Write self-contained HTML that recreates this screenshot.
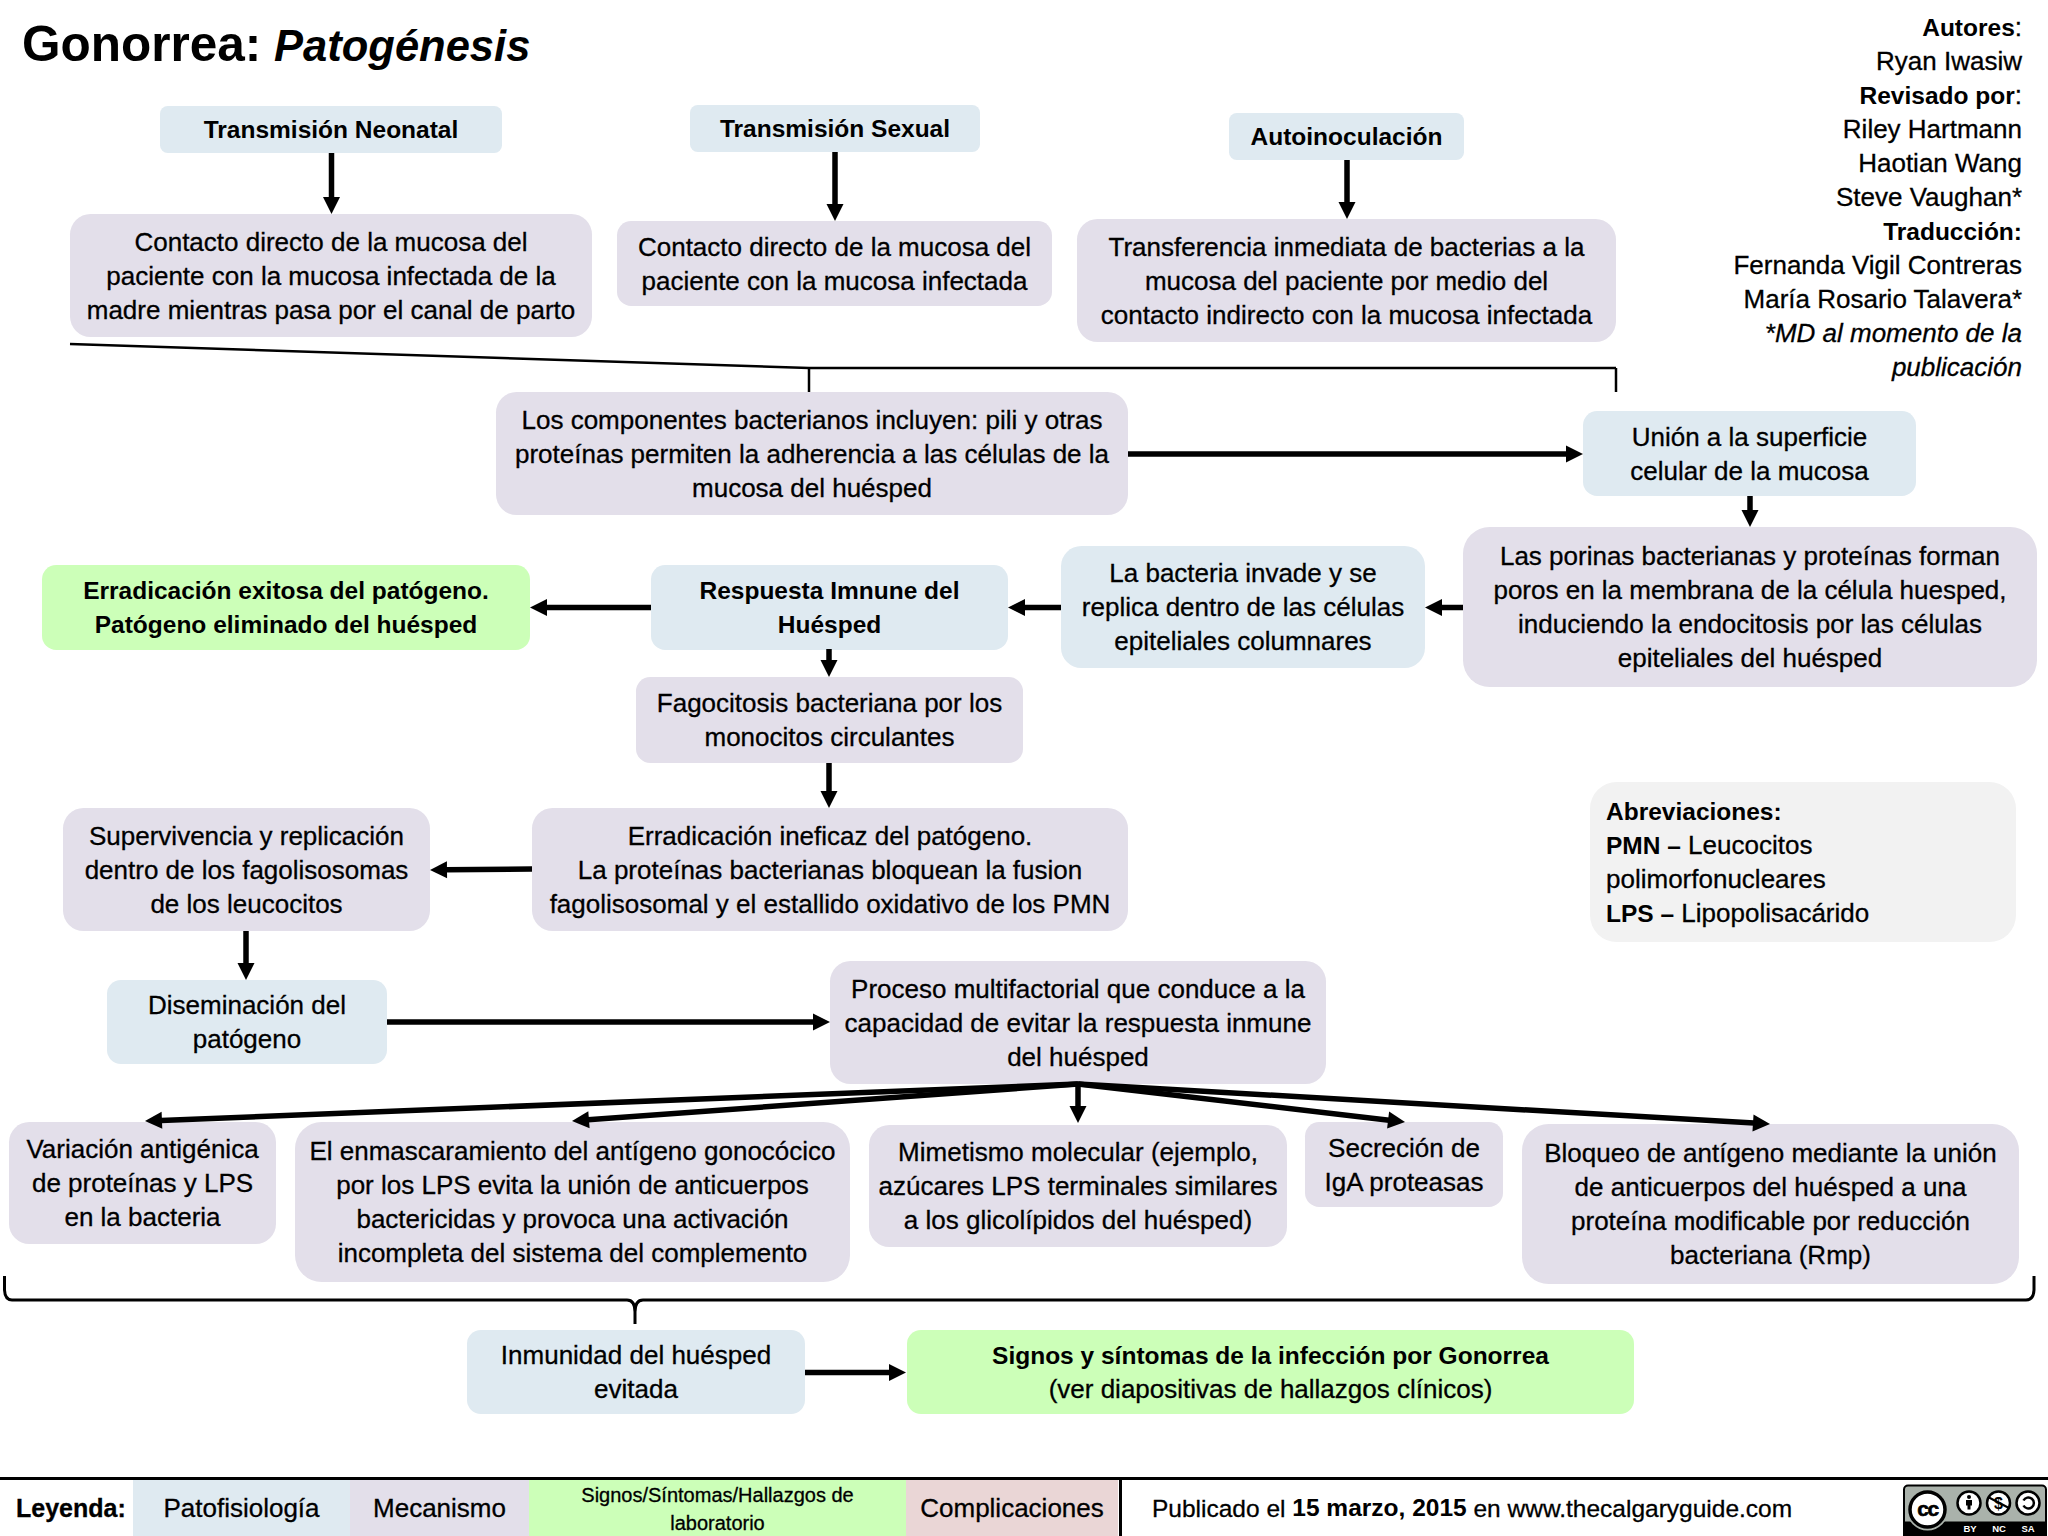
<!DOCTYPE html>
<html><head><meta charset="utf-8">
<style>
html,body{margin:0;padding:0;background:#fff;}
body{width:2048px;height:1536px;position:relative;overflow:hidden;font-family:"Liberation Sans",sans-serif;color:#000;}
.b{position:absolute;display:flex;align-items:center;justify-content:center;text-align:center;border-radius:18px;font-size:26px;line-height:34px;box-sizing:border-box;}
.p{background:#dfeaf1;}
.m{background:#e3dfea;}
.g{background:#ccffb8;}
.k{background:#f2f2f2;}
.sm{border-radius:10px;}
.bo{font-weight:bold;font-size:24.5px;}
b{font-size:24.5px;line-height:1;-webkit-text-stroke:0;}
.b,#auth,.fc{-webkit-text-stroke:0.3px #000;}
.bo{-webkit-text-stroke:0;}
#title{position:absolute;left:22px;top:15px;font-size:46px;font-weight:bold;white-space:nowrap;}
#auth{position:absolute;right:26px;top:10px;text-align:right;font-size:26px;line-height:34px;}
svg{position:absolute;left:0;top:0;}
#foot{position:absolute;left:0;top:1477px;width:2048px;height:60px;border-top:3px solid #000;box-sizing:border-box;}
.fc{position:absolute;top:0;height:57px;display:flex;align-items:center;justify-content:center;text-align:center;font-size:26px;}
</style></head><body>

<div id="title"><span style="font-size:49.5px">Gonorrea:</span> <i style="font-size:43.5px">Patogénesis</i></div>
<div id="auth"><b>Autores</b>:<br>Ryan Iwasiw<br><b>Revisado por</b>:<br>Riley Hartmann<br>Haotian Wang<br>Steve Vaughan*<br><b>Traducción:</b><br>Fernanda Vigil Contreras<br>María Rosario Talavera*<br><i>*MD al momento de la<br>publicación</i></div>
<div class="b p sm bo" style="left:160px;top:106px;width:342px;height:47px;border-radius:7.8px;">Transmisión Neonatal</div>
<div class="b p sm bo" style="left:690px;top:105px;width:290px;height:47px;border-radius:7.8px;">Transmisión Sexual</div>
<div class="b p sm bo" style="left:1229px;top:113px;width:235px;height:47px;border-radius:7.8px;">Autoinoculación</div>
<div class="b m" style="left:70px;top:214px;width:522px;height:123px;border-radius:20.5px;">Contacto directo de la mucosa del<br>paciente con la mucosa infectada de la<br>madre mientras pasa por el canal de parto</div>
<div class="b m" style="left:617px;top:221px;width:435px;height:85px;border-radius:14.2px;">Contacto directo de la mucosa del<br>paciente con la mucosa infectada</div>
<div class="b m" style="left:1077px;top:219px;width:539px;height:123px;border-radius:20.5px;">Transferencia inmediata de bacterias a la<br>mucosa del paciente por medio del<br>contacto indirecto con la mucosa infectada</div>
<div class="b m" style="left:496px;top:392px;width:632px;height:123px;border-radius:20.5px;">Los componentes bacterianos incluyen: pili y otras<br>proteínas permiten la adherencia a las células de la<br>mucosa del huésped</div>
<div class="b p" style="left:1583px;top:411px;width:333px;height:85px;border-radius:14.2px;">Unión a la superficie<br>celular de la mucosa</div>
<div class="b m" style="left:1463px;top:527px;width:574px;height:160px;border-radius:26.7px;">Las porinas bacterianas y proteínas forman<br>poros en la membrana de la célula huesped,<br>induciendo la endocitosis por las células<br>epiteliales del huésped</div>
<div class="b p" style="left:1061px;top:546px;width:364px;height:122px;border-radius:20.3px;">La bacteria invade y se<br>replica dentro de las células<br>epiteliales columnares</div>
<div class="b p bo" style="left:651px;top:565px;width:357px;height:85px;border-radius:14.2px;">Respuesta Imnune del<br>Huésped</div>
<div class="b g bo" style="left:42px;top:565px;width:488px;height:85px;border-radius:14.2px;">Erradicación exitosa del patógeno.<br>Patógeno eliminado del huésped</div>
<div class="b m" style="left:636px;top:677px;width:387px;height:86px;border-radius:14.3px;">Fagocitosis bacteriana por los<br>monocitos circulantes</div>
<div class="b m" style="left:532px;top:808px;width:596px;height:123px;border-radius:20.5px;">Erradicación ineficaz del patógeno.<br>La proteínas bacterianas bloquean la fusion<br>fagolisosomal y el estallido oxidativo de los PMN</div>
<div class="b m" style="left:63px;top:808px;width:367px;height:123px;border-radius:20.5px;">Supervivencia y replicación<br>dentro de los fagolisosomas<br>de los leucocitos</div>
<div class="b p" style="left:107px;top:980px;width:280px;height:84px;border-radius:14.0px;">Diseminación del<br>patógeno</div>
<div class="b m" style="left:830px;top:961px;width:496px;height:123px;border-radius:20.5px;">Proceso multifactorial que conduce a la<br>capacidad de evitar la respuesta inmune<br>del huésped</div>
<div class="b k" style="left:1590px;top:782px;width:426px;height:160px;border-radius:26.7px;justify-content:flex-start;text-align:left;padding-left:16px;"><div><b>Abreviaciones:</b><br><b>PMN –</b> Leucocitos<br>polimorfonucleares<br><b>LPS –</b> Lipopolisacárido</div></div>
<div class="b m" style="left:9px;top:1122px;width:267px;height:122px;border-radius:20.3px;">Variación antigénica<br>de proteínas y LPS<br>en la bacteria</div>
<div class="b m" style="left:295px;top:1122px;width:555px;height:160px;border-radius:26.7px;">El enmascaramiento del antígeno gonocócico<br>por los LPS evita la unión de anticuerpos<br>bactericidas y provoca una activación<br>incompleta del sistema del complemento</div>
<div class="b m" style="left:869px;top:1125px;width:418px;height:122px;border-radius:20.3px;">Mimetismo molecular (ejemplo,<br>azúcares LPS terminales similares<br>a los glicolípidos del huésped)</div>
<div class="b m" style="left:1305px;top:1122px;width:198px;height:85px;border-radius:14.2px;">Secreción de<br>IgA proteasas</div>
<div class="b m" style="left:1522px;top:1124px;width:497px;height:160px;border-radius:26.7px;">Bloqueo de antígeno mediante la unión<br>de anticuerpos del huésped a una<br>proteína modificable por reducción<br>bacteriana (Rmp)</div>
<div class="b p" style="left:467px;top:1330px;width:338px;height:84px;border-radius:14.0px;">Inmunidad del huésped<br>evitada</div>
<div class="b g" style="left:907px;top:1330px;width:727px;height:84px;border-radius:14.0px;"><div><b style="font-size:24.5px">Signos y síntomas de la infección por Gonorrea</b><br>(ver diapositivas de hallazgos clínicos)</div></div>
<svg width="2048" height="1536" viewBox="0 0 2048 1536">
<line x1="331.5" y1="153.0" x2="331.5" y2="198.0" stroke="#000" stroke-width="5.5"/><polygon points="331.5,214.0 323.0,197.0 340.0,197.0" fill="#000"/>
<line x1="835.0" y1="152.0" x2="835.0" y2="205.0" stroke="#000" stroke-width="5.5"/><polygon points="835.0,221.0 826.5,204.0 843.5,204.0" fill="#000"/>
<line x1="1347.0" y1="160.0" x2="1347.0" y2="203.0" stroke="#000" stroke-width="5.5"/><polygon points="1347.0,219.0 1338.5,202.0 1355.5,202.0" fill="#000"/>
<line x1="1128.0" y1="454.0" x2="1567.0" y2="454.0" stroke="#000" stroke-width="5.5"/><polygon points="1583.0,454.0 1566.0,462.5 1566.0,445.5" fill="#000"/>
<line x1="1750.0" y1="496.0" x2="1750.0" y2="511.0" stroke="#000" stroke-width="5.5"/><polygon points="1750.0,527.0 1741.5,510.0 1758.5,510.0" fill="#000"/>
<line x1="1463.0" y1="607.5" x2="1441.0" y2="607.5" stroke="#000" stroke-width="5.5"/><polygon points="1425.0,607.5 1442.0,599.0 1442.0,616.0" fill="#000"/>
<line x1="1061.0" y1="607.5" x2="1024.0" y2="607.5" stroke="#000" stroke-width="5.5"/><polygon points="1008.0,607.5 1025.0,599.0 1025.0,616.0" fill="#000"/>
<line x1="651.0" y1="607.5" x2="546.0" y2="607.5" stroke="#000" stroke-width="5.5"/><polygon points="530.0,607.5 547.0,599.0 547.0,616.0" fill="#000"/>
<line x1="829.0" y1="649.0" x2="829.0" y2="661.0" stroke="#000" stroke-width="5.5"/><polygon points="829.0,677.0 820.5,660.0 837.5,660.0" fill="#000"/>
<line x1="829.0" y1="763.0" x2="829.0" y2="792.0" stroke="#000" stroke-width="5.5"/><polygon points="829.0,808.0 820.5,791.0 837.5,791.0" fill="#000"/>
<line x1="532.0" y1="869.0" x2="446.0" y2="869.8" stroke="#000" stroke-width="5.5"/><polygon points="430.0,870.0 446.9,861.3 447.1,878.3" fill="#000"/>
<line x1="246.0" y1="931.0" x2="246.0" y2="964.0" stroke="#000" stroke-width="5.5"/><polygon points="246.0,980.0 237.5,963.0 254.5,963.0" fill="#000"/>
<line x1="387.0" y1="1022.0" x2="814.0" y2="1022.0" stroke="#000" stroke-width="5.5"/><polygon points="830.0,1022.0 813.0,1030.5 813.0,1013.5" fill="#000"/>
<line x1="805.0" y1="1372.5" x2="890.0" y2="1372.5" stroke="#000" stroke-width="5.5"/><polygon points="906.0,1372.5 889.0,1381.0 889.0,1364.0" fill="#000"/>
<line x1="1078.0" y1="1084.0" x2="161.0" y2="1120.4" stroke="#000" stroke-width="5.5"/><polygon points="145.0,1121.0 161.6,1111.8 162.3,1128.8" fill="#000"/>
<line x1="1078.0" y1="1084.0" x2="588.0" y2="1119.8" stroke="#000" stroke-width="5.5"/><polygon points="572.0,1121.0 588.3,1111.3 589.6,1128.2" fill="#000"/>
<line x1="1078.0" y1="1084.0" x2="1078.0" y2="1107.0" stroke="#000" stroke-width="5.5"/><polygon points="1078.0,1123.0 1069.5,1106.0 1086.5,1106.0" fill="#000"/>
<line x1="1078.0" y1="1084.0" x2="1389.1" y2="1120.2" stroke="#000" stroke-width="5.5"/><polygon points="1405.0,1122.0 1387.1,1128.5 1389.1,1111.6" fill="#000"/>
<line x1="1078.0" y1="1084.0" x2="1754.0" y2="1123.1" stroke="#000" stroke-width="5.5"/><polygon points="1770.0,1124.0 1752.5,1131.5 1753.5,1114.5" fill="#000"/>
<g stroke="#000" stroke-width="2.5" fill="none">
<polyline points="70,344 809,368 1616,368"/>
<line x1="809" y1="368" x2="809" y2="392"/>
<line x1="1616" y1="368" x2="1616" y2="392"/>
<path stroke-width="3" d="M4.5,1276 L4.5,1290 Q5,1300 12,1300 L627,1300 Q635,1300 635,1312 L635,1324 M635,1312 Q635,1300 643,1300 L2026,1300 Q2033.5,1300 2034,1290 L2034,1276"/>
</g></svg>
<div id="foot">
<div class="fc" style="left:16px;width:110px;font-weight:bold;font-size:25px;justify-content:flex-start;">Leyenda:</div>
<div class="fc p" style="left:133px;width:217px;">Patofisiología</div>
<div class="fc m" style="left:350px;width:179px;">Mecanismo</div>
<div class="fc g" style="left:529px;width:377px;font-size:20px;line-height:28px;">Signos/Síntomas/Hallazgos de<br>laboratorio</div>
<div class="fc" style="left:906px;width:212px;background:#ead6d6;">Complicaciones</div>
<div style="position:absolute;left:1119px;top:0;width:3px;height:60px;background:#000;"></div>
<div class="fc" style="left:1152px;width:700px;justify-content:flex-start;font-size:24.5px;">Publicado el&nbsp;<b>15 marzo, 2015</b>&nbsp;en www.thecalgaryguide.com</div>
</div>
<svg style="position:absolute;left:0;top:0" width="2048" height="1536" viewBox="0 0 2048 1536">
<rect x="1904" y="1485.5" width="142" height="60" rx="4" fill="#aab2ab" stroke="#000" stroke-width="2"/>
<rect x="1904" y="1521.5" width="142" height="20" fill="#000"/>
<circle cx="1927.5" cy="1509.5" r="21" fill="#aab2ab"/>
<circle cx="1927.5" cy="1509.5" r="17.5" fill="#fff" stroke="#000" stroke-width="3.5"/>
<text x="1927.5" y="1515.5" font-family="Liberation Sans" font-weight="bold" font-size="21" text-anchor="middle" letter-spacing="-1.5" stroke="#000" stroke-width="0.6">cc</text>
<g fill="#fff" stroke="#000" stroke-width="2.5">
<circle cx="1969" cy="1503" r="11.5"/><circle cx="1998.5" cy="1503" r="11.5"/><circle cx="2028" cy="1503" r="11.5"/>
</g>
<circle cx="1969" cy="1497" r="2" fill="#000"/>
<path d="M1966,1500 h6 v5.5 h-1.5 v4 h-3 v-4 h-1.5 z" fill="#000"/>
<text x="1998.5" y="1508.5" font-family="Liberation Sans" font-weight="bold" font-size="16" text-anchor="middle">$</text>
<line x1="1988" y1="1497" x2="2009" y2="1508" stroke="#000" stroke-width="2"/>
<path d="M2023.5,1500.5 A5.5,5.5 0 1 1 2023.5,1505.5" fill="none" stroke="#000" stroke-width="2.5"/>
<g font-family="Liberation Sans" font-weight="bold" font-size="9.5" fill="#fff" text-anchor="middle">
<text x="1970" y="1532">BY</text><text x="1999" y="1532">NC</text><text x="2028" y="1532">SA</text>
</g>
</svg>
</body></html>
